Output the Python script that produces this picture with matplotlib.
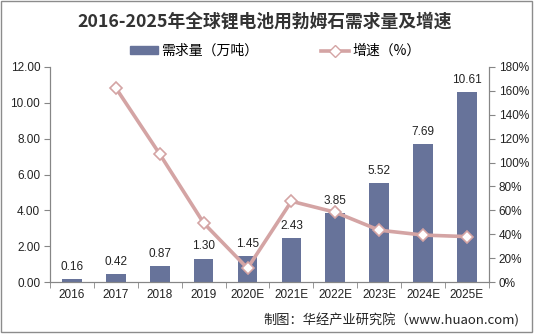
import matplotlib
matplotlib.use('Agg')
from matplotlib import pyplot as plt
from matplotlib.lines import Line2D
from matplotlib.patches import Patch, Rectangle
from matplotlib.ticker import FixedLocator, FuncFormatter
import numpy as np

plt.rcParams['font.family'] = ['Noto Sans CJK SC', 'DejaVu Sans']

years = ['2016', '2017', '2018', '2019', '2020E', '2021E', '2022E', '2023E', '2024E', '2025E']
demand = [0.16, 0.42, 0.87, 1.30, 1.45, 2.43, 3.85, 5.52, 7.69, 10.61]
# growth rate in percent, no value for the first year
growth = [None, 162.5, 107.1, 49.4, 11.5, 67.6, 58.4, 43.4, 39.3, 38.0]

bar_color = '#67739a'
line_color = '#d4a4a4'
axis_color = '#868686'

fig = plt.figure(figsize=(5.34, 3.36), dpi=100)
ax = fig.add_axes([0.0936, 0.1607, 0.822, 0.6399])
ax2 = ax.twinx()

x = np.arange(len(years))
ax.bar(x, demand, width=0.45, color=bar_color, zorder=2)
for xi, v in zip(x, demand):
    ax.text(xi, v + 0.35, '%.2f' % v, ha='center', va='bottom', fontsize=8.5,
            family='Liberation Sans', color='#222222')

gx = [xi for xi, g in zip(x, growth) if g is not None]
gy = [g for g in growth if g is not None]
ax2.plot(gx, gy, color=line_color, lw=2.6, marker='D', markersize=6,
         markerfacecolor='white', markeredgecolor=line_color, markeredgewidth=1.2, zorder=3)

ax.set_xlim(-0.5, len(years) - 0.5)
ax.set_ylim(0, 12)
ax2.set_ylim(0, 180)
ax.set_yticks(np.arange(0, 12.01, 2))
ax.yaxis.set_major_formatter(FuncFormatter(lambda v, p: '%.2f' % v))
ax2.set_yticks(np.arange(0, 181, 20))
ax2.yaxis.set_major_formatter(FuncFormatter(lambda v, p: '%d%%' % v))

ax.set_xticks(x)
ax.set_xticklabels(years)
ax.xaxis.set_minor_locator(FixedLocator(np.arange(-0.5, len(years), 1)))
ax.tick_params(axis='x', which='major', length=0, pad=5)
ax.tick_params(axis='x', which='minor', length=4, direction='out', color=axis_color)
ax.tick_params(axis='y', length=4, direction='out', color=axis_color, pad=3)
ax2.tick_params(axis='y', length=4, direction='out', color=axis_color, pad=3)

for a in (ax, ax2):
    for lab in a.get_xticklabels() + a.get_yticklabels():
        lab.set_family('Liberation Sans')
        lab.set_fontsize(8.5)
        lab.set_color('#222222')
    a.spines['top'].set_visible(False)
    a.spines['left'].set_color(axis_color)
    a.spines['right'].set_color(axis_color)
    a.spines['bottom'].set_color(axis_color)

fig.text(0.495, 0.935, '2016-2025年全球锂电池用勃姆石需求量及增速', ha='center', va='center',
         fontsize=12.8, fontweight='bold', color='#333333')

handles = [Patch(color=bar_color),
           Line2D([0], [0], color=line_color, lw=2.6, marker='D', markersize=6,
                  markerfacecolor='white', markeredgecolor=line_color)]
fig.legend(handles, ['需求量（万吨）', '增速（%）'], loc='center', bbox_to_anchor=(0.516, 0.848),
           ncol=2, frameon=False, fontsize=10, handlelength=2.0, handleheight=0.45,
           columnspacing=4.5, handletextpad=0.25)

fig.text(0.972, 0.045, '制图：华经产业研究院（www.huaon.com)', ha='right', va='center',
         fontsize=9.5, color='#222222')

fig.patches.append(Rectangle((0.002, 0.012), 0.994, 0.985, transform=fig.transFigure,
                             fill=False, edgecolor='#8c8c8c', lw=1))

fig.savefig('out.png', dpi=100)
